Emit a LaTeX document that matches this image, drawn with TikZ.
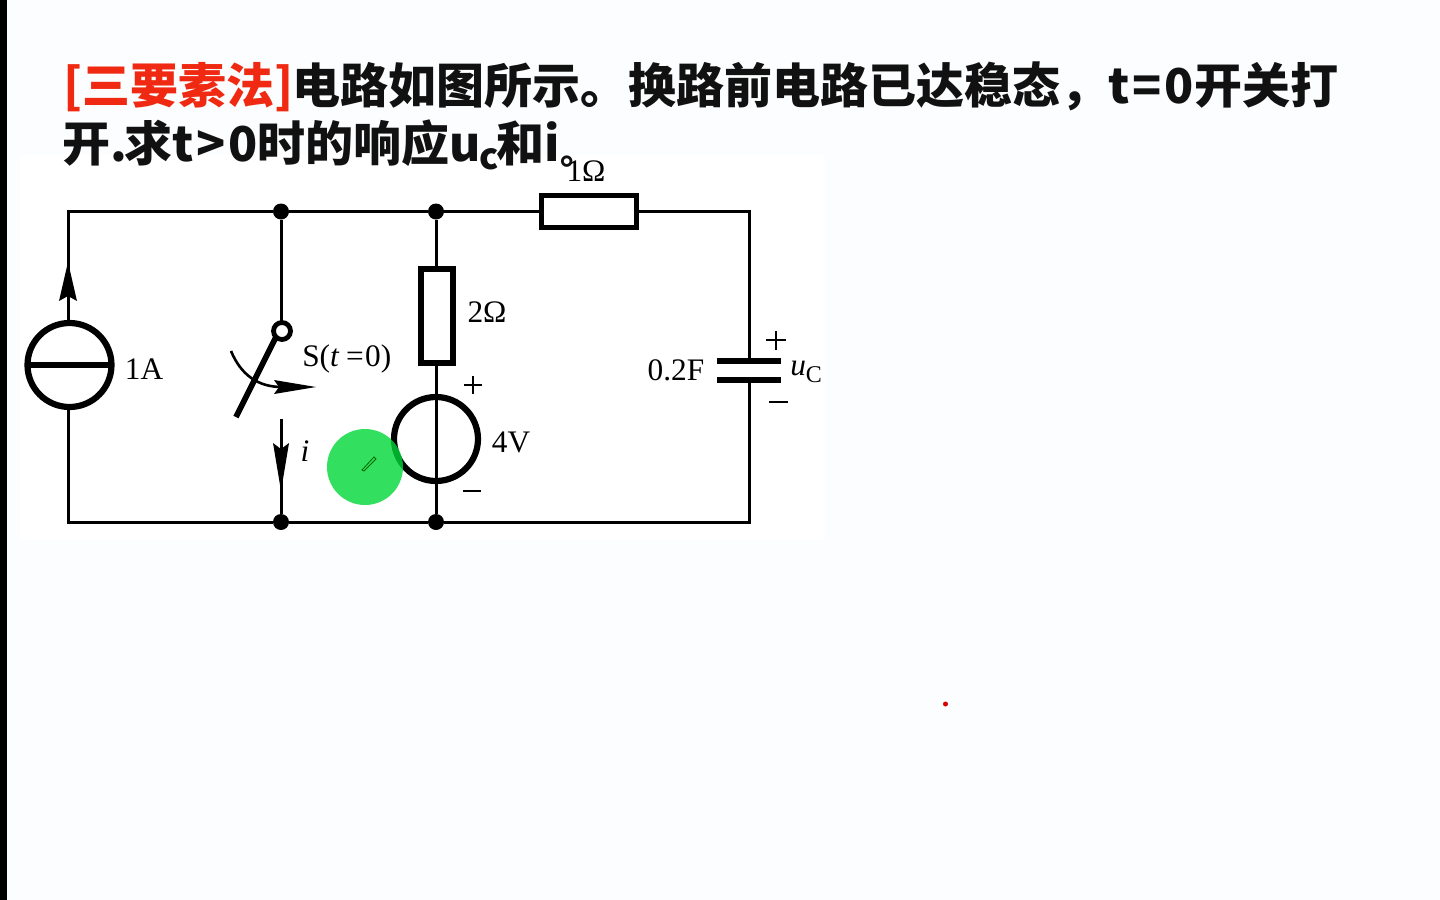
\documentclass[tikz,border=0pt]{standalone}
\usepackage{fontspec}
\setmainfont{Liberation Serif}
\newfontfamily\cjkbold{Noto Sans CJK SC Black}
\usetikzlibrary{calc}
\definecolor{pagebg}{HTML}{FBFDFE}
\definecolor{titlered}{HTML}{F02A12}
\definecolor{titleblack}{HTML}{111111}
\definecolor{greendot}{HTML}{00D838}
\tikzset{
  x=0.75pt,y=-0.75pt,
  wire/.style={line width=3pt*0.75,black,line join=miter},
  thickpart/.style={line width=5.6pt*0.75,black},
  signmark/.style={line width=2.8pt*0.75,black},
  junction/.style={circle,fill=black,inner sep=0pt,minimum size=12pt},
  titletext/.style={anchor=base west,inner sep=0pt,font=\cjkbold\fontsize{36pt}{36pt}\selectfont},
  lab/.style={inner sep=0pt,font=\fontsize{23.5pt}{23.5pt}\selectfont},
  resistorbox/.style={draw,line width=5.4pt*0.75,fill=white,inner sep=0pt,outer sep=0pt},
  sourcering/.style={draw,circle,line width=6.2pt*0.75,inner sep=0pt,outer sep=0pt,minimum size=84pt*0.75},
  head/.style={fill=black,draw=none},
}
\begin{document}
\begin{tikzpicture}
\useasboundingbox (0,0) rectangle (1440,900);
\fill[pagebg] (0,0) rectangle (1440,900);
\fill[black] (0,0) rectangle (7,900);
\fill[white] (20,155) rectangle (825,540);
% nodes
\coordinate (tl) at (68,211.5);
\coordinate (bl) at (68,522);
\coordinate (tr) at (749,211.5);
\coordinate (br) at (749,522);
\node[junction] (ja) at (281,211.5) {};
\node[junction] (jb) at (436,211.5) {};
\node[junction] (jc) at (281,522) {};
\node[junction] (jd) at (436,522) {};
\node[resistorbox,minimum width=95pt*0.75,minimum height=32pt*0.75] (r1) at (589,211.5) {};
\node[resistorbox,minimum width=32pt*0.75,minimum height=94pt*0.75] (r2) at (437,316) {};
\node[sourcering] (cs) at (69.5,365) {};
\node[sourcering] (vs) at (436,439) {};
\node[circle,draw,line width=4.8pt*0.75,inner sep=0pt,outer sep=0pt,minimum size=17pt*0.75,fill=white] (sw) at (282,331) {};
\coordinate (capt) at (749,361);
\coordinate (capb) at (749,381);
\coordinate (swb) at (236,417);
\coordinate (ia) at (281,419);
% wires
\draw[wire] (tl |- cs.north) -- (tl) -- (ja) -- (jb) -- (r1.west);
\draw[wire] (r1.east) -- (tr) -- (capt);
\draw[wire] (capb) -- (br) -- (jd) -- (jc) -- (bl) -- (bl |- cs.south);
\draw[wire] (ja) -- (ja |- sw.north);
\draw[wire] (jb) -- (jb |- r2.north);
\draw[wire] (jb |- r2.south) -- (jd);
\draw[wire] (ia) -- (jc);
\draw[thickpart] (sw.south west) -- (swb);
\draw[thickpart] (cs.west) -- (cs.east);
% capacitor
\draw[line width=6.4pt*0.75] (717,361) -- (781,361);
\draw[line width=6.4pt*0.75] (717,380) -- (781,380);
% arrowheads
\fill[head] (68,262) -- (77,301) -- (68,296) -- (59,301) -- cycle;
\fill[head] (281,491) -- (273,443) -- (281,449) -- (289,443) -- cycle;
\draw[line width=2.6pt*0.75] (231,351) .. controls (241,375) and (258,387) .. (282,387);
\fill[head] (316,387) -- (274,380) -- (279,387) -- (274,394) -- cycle;
% labels
\node[lab] (l1) at (586,171) {1Ω};
\node[lab] (l2) at (487,312) {2Ω};
\node[lab] (l3) at (144,369) {1A};
\node[lab,anchor=west] (l4) at (302,359) {S(\textit{t}\kern5pt=\kern1pt 0)};
\node[lab] (l5) at (511,442) {4V};
\node[lab] (l6) at (305,451) {\textit{i}};
\node[lab] (l7) at (676,370) {0.2F};
\node[lab,anchor=west] (l8) at (790,372) {\textit{u}\raisebox{-0.45ex}{\fontsize{18pt}{18pt}\selectfont C}};
\draw[signmark] (766,340) -- (786,340) (776,331) -- (776,350);
\draw[signmark] (769,402) -- (788,402);
\draw[signmark] (464,385) -- (482,385) (473,376) -- (473,394);
\draw[signmark] (463,491) -- (481,491);
% title
\node[titletext,text=titlered] (t1) at (63,103) {[三要素法]};
\node[titletext,text=titleblack] (t2) at (292,103) {电路如图所示。换路前电路已达稳态，t\kern2pt=\kern2pt0\kern1pt 开关打};
\node[titletext,text=titleblack] (t3) at (62,161) {开.\kern-2pt 求t\kern2pt>\kern2pt0时的响应u\kern-1pt\raisebox{-0.32ex}{\fontsize{27pt}{27pt}\selectfont c}\kern-1.5pt 和i\raisebox{-0.12ex}{\fontsize{26pt}{26pt}\selectfont 。}};
% highlight
\begin{scope}[opacity=0.8]
\fill[greendot] (365,467) circle[radius=38];
\end{scope}
\draw[line width=0.6pt,green!40!black] (362,470) -- (374,457) -- (376,459) -- (364,471) -- cycle;
\fill[red!85!black] (945.5,704) circle[radius=2.5];
\end{tikzpicture}
\end{document}
